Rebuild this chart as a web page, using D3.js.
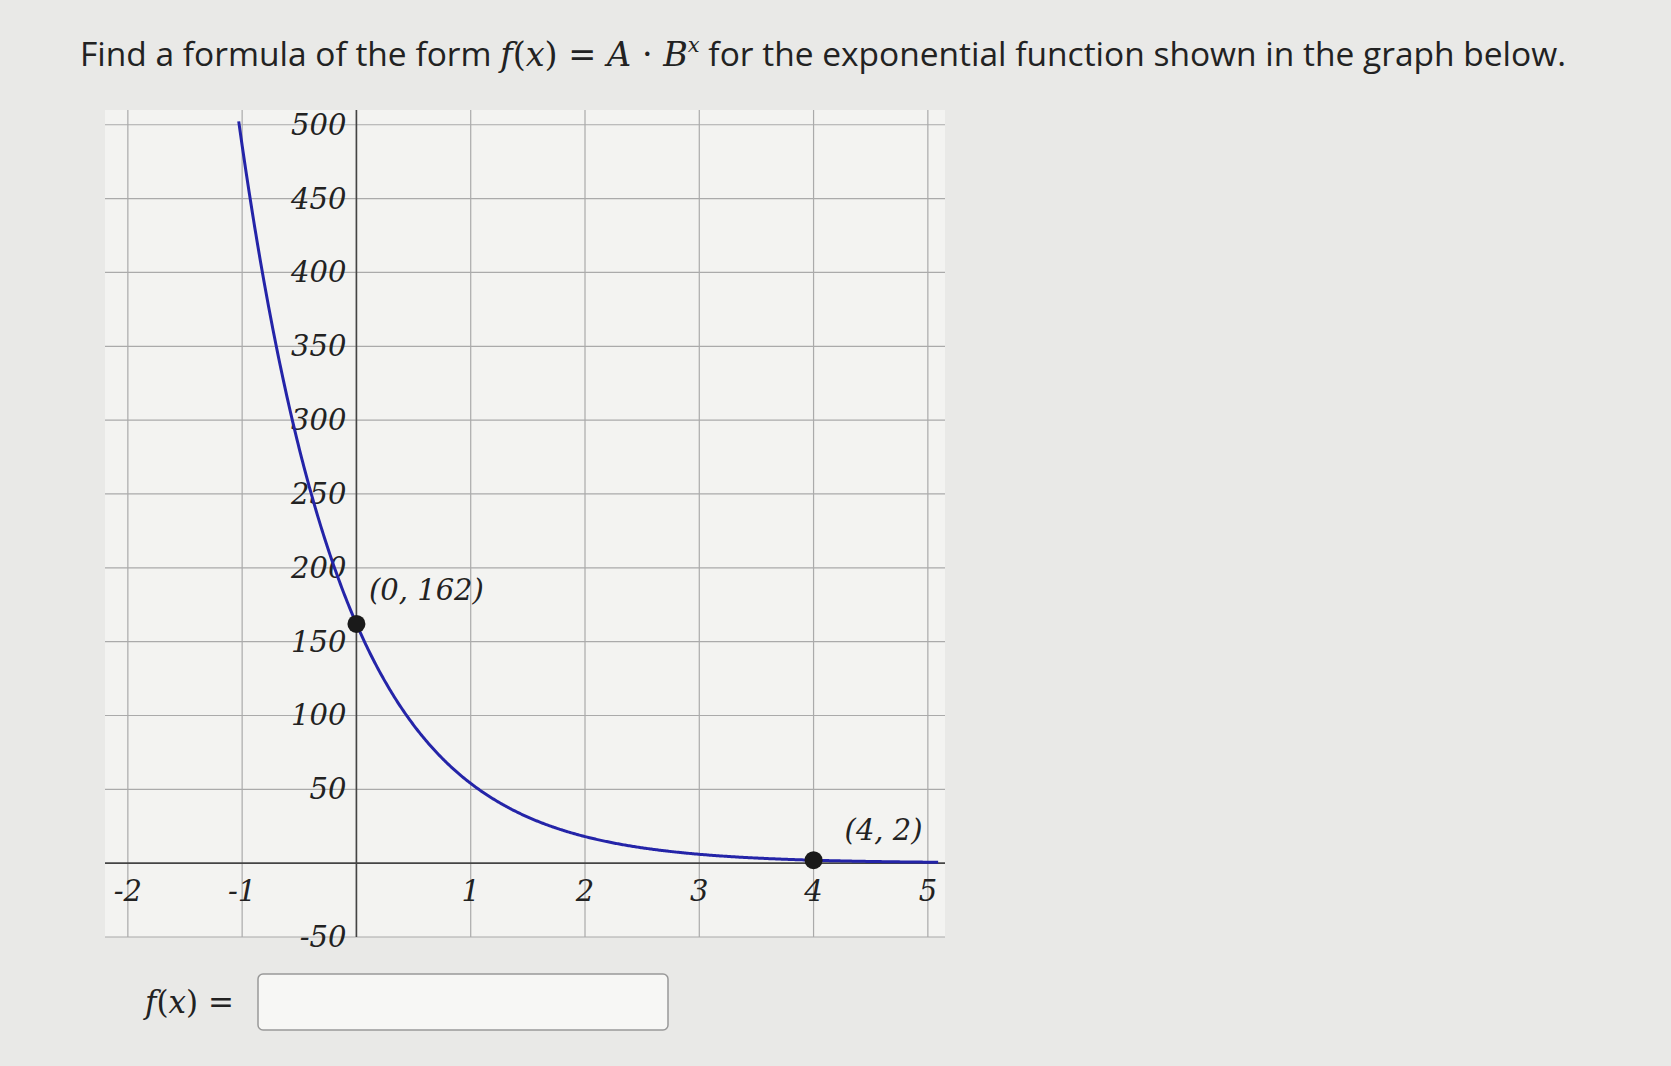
<!DOCTYPE html>
<html><head><meta charset="utf-8">
<script src="https://cdn.jsdelivr.net/npm/d3@7"></script>
<style>
body{margin:0;background:#e9e9e7;}
</style></head>
<body><svg id="c" width="1671" height="1066"></svg>
<script>
// data
const xTicks = [-2, -1, 1, 2, 3, 4, 5];
const yTicks = [500, 450, 400, 350, 300, 250, 200, 150, 100, 50, -50];
const gridX = [-2, -1, 0, 1, 2, 3, 4, 5];
const gridY = [500, 450, 400, 350, 300, 250, 200, 150, 100, 50, 0, -50];
const points = [[0, 162], [4, 2]];
const pointLabels = ["(0, 162)", "(4, 2)"];

// curve through the two labelled points: f(x) = A * B^x
const A = points[0][1];
const B = Math.pow(points[1][1] / A, 1 / points[1][0]);

const svg = d3.select("#c");
svg.append("text").attr("x", 80).attr("y", 66)
  .attr("font-family", "Open Sans, sans-serif").attr("font-size", 33.5).attr("fill", "#222")
  .html('Find a formula of the form <tspan font-family="DejaVu Serif" font-style="italic">f</tspan><tspan font-family="DejaVu Serif">(</tspan><tspan font-family="DejaVu Serif" font-style="italic">x</tspan><tspan font-family="DejaVu Serif">) = </tspan><tspan font-family="DejaVu Serif" font-style="italic">A</tspan><tspan font-family="DejaVu Serif"> · </tspan><tspan font-family="DejaVu Serif" font-style="italic">B</tspan><tspan font-family="DejaVu Serif" font-style="italic" font-size="21" dy="-14">x</tspan><tspan dy="14"> for the exponential function shown in the graph below.</tspan>');

const x = d3.scaleLinear().domain([-2.2, 5.15]).range([105, 945]);
const y = d3.scaleLinear().domain([-50, 510]).range([937, 110]);

svg.append("rect").attr("x", x(-2.2)).attr("y", y(510)).attr("width", x(5.15) - x(-2.2))
  .attr("height", y(-50) - y(510)).attr("fill", "#f3f3f1");

const g = svg.append("g");
g.selectAll(".vx").data(gridX).join("line")
  .attr("x1", d => x(d)).attr("x2", d => x(d)).attr("y1", y(510)).attr("y2", y(-50))
  .attr("stroke", "#aaa").attr("stroke-width", 1.2);
g.selectAll(".hy").data(gridY).join("line")
  .attr("x1", x(-2.2)).attr("x2", x(5.15)).attr("y1", d => y(d)).attr("y2", d => y(d))
  .attr("stroke", d => d === 0 ? "#444" : "#aaa").attr("stroke-width", d => d === 0 ? 1.6 : 1.2);
g.append("line").attr("x1", x(0)).attr("x2", x(0)).attr("y1", y(510)).attr("y2", y(-50))
  .attr("stroke", "#444").attr("stroke-width", 1.6);

const lab = {"font-family": "DejaVu Serif", "font-style": "italic", "font-size": 29, "fill": "#222"};
const yl = g.selectAll(".yl").data(yTicks).join("text")
  .attr("x", x(0) - 10).attr("y", d => y(d) + 10).attr("text-anchor", "end").text(d => d);
const xl = g.selectAll(".xl").data(xTicks).join("text")
  .attr("x", d => x(d)).attr("y", y(0) + 38).attr("text-anchor", "middle").text(d => d);
for (const k in lab) { yl.attr(k, lab[k]); xl.attr(k, lab[k]); }

const xs = d3.range(-1.03, 5.1, 0.01);
g.append("path").datum(xs)
  .attr("d", d3.line().x(d => x(d)).y(d => y(A * Math.pow(B, d))))
  .attr("fill", "none").attr("stroke", "#2424a8").attr("stroke-width", 3);

g.selectAll(".pt").data(points).join("circle")
  .attr("cx", d => x(d[0])).attr("cy", d => y(d[1])).attr("r", 9).attr("fill", "#1a1a1a");
const pl = g.selectAll(".pl").data(points).join("text")
  .attr("x", d => x(d[0]) + 70).attr("y", (d, i) => y(d[1]) - (i ? 20 : 24))
  .attr("text-anchor", "middle").text((d, i) => pointLabels[i]);
for (const k in lab) pl.attr(k, lab[k]);

svg.append("text").attr("x", 145).attr("y", 1013)
  .attr("font-family", "DejaVu Serif").attr("font-size", 31).attr("fill", "#222")
  .html('<tspan font-style="italic">f</tspan>(<tspan font-style="italic">x</tspan>) =');
svg.append("rect").attr("x", 258).attr("y", 974).attr("width", 410).attr("height", 56)
  .attr("rx", 5).attr("fill", "#f7f7f5").attr("stroke", "#999").attr("stroke-width", 1.5);
</script></body></html>
